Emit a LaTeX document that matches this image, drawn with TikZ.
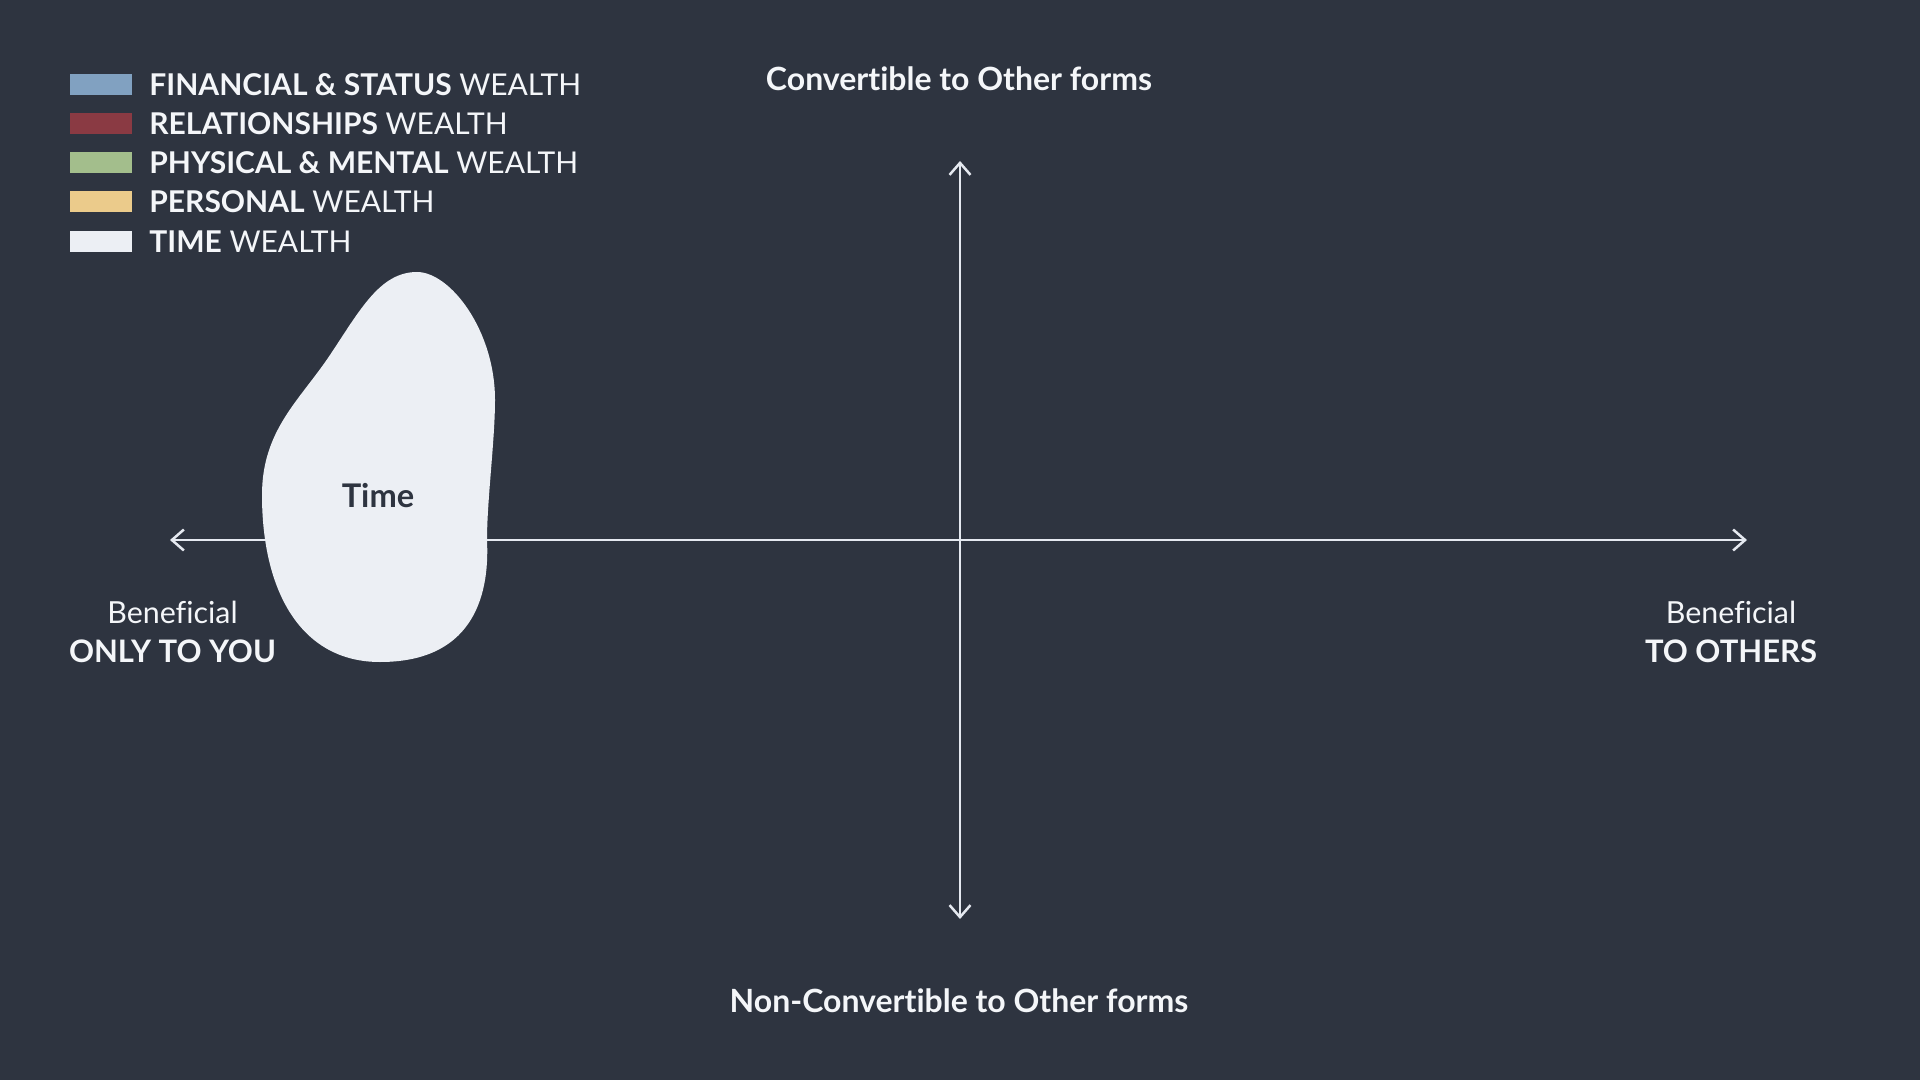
\documentclass[tikz,border=0pt]{standalone}
\usepackage{fontspec}
\setmainfont{Lato}[Ligatures=NoCommon]
\usetikzlibrary{arrows.meta}
\definecolor{bg}{HTML}{2E3440}
\definecolor{axisc}{HTML}{E5E9F0}
\definecolor{txt}{HTML}{F4F6F9}
\definecolor{cfin}{HTML}{81A1C1}
\definecolor{crel}{HTML}{8A3A43}
\definecolor{cphy}{HTML}{A3BE8C}
\definecolor{cper}{HTML}{EBCB8B}
\definecolor{ctim}{HTML}{ECEFF4}
\tikzset{
  axisline/.style={draw=axisc, line width=1.25pt,
    arrows={Straight Barb[length=6pt,width=10.5pt]-Straight Barb[length=6pt,width=10.5pt]}},
  lbl/.style={text=txt, inner sep=0pt, anchor=base, font=\fontsize{15.2}{18}\selectfont},
  blbl/.style={text=txt, inner sep=0pt, anchor=base, font=\fontsize{15.5}{18}\selectfont\bfseries},
  tlbl/.style={blbl, font=\fontsize{16}{18}\selectfont\bfseries},
  legtext/.style={text=txt, inner sep=0pt, anchor=base west, font=\fontsize{15}{18}\selectfont},
  swatch/.style={minimum width=31pt, minimum height=10.5pt, inner sep=0pt, draw=none},
  blobstyle/.style={fill=ctim, draw=none},
}
\begin{document}
\begin{tikzpicture}[x=0.5pt,y=-0.5pt]
\fill[bg] (0,0) rectangle (1920,1080);
\useasboundingbox (0,0) rectangle (1920,1080);

% legend
\node[swatch, fill=cfin] (s1) at (101,84.5) {};
\node[swatch, fill=crel] (s2) at (101,123.7) {};
\node[swatch, fill=cphy] (s3) at (101,162.9) {};
\node[swatch, fill=cper] (s4) at (101,202) {};
\node[swatch, fill=ctim] (s5) at (101,241.2) {};
\node[legtext] (l1) at (149,95.5) {\textbf{FINANCIAL \& STATUS} WEALTH};
\node[legtext] (l2) at (149,134.7) {\textbf{RELATIONSHIPS} WEALTH};
\node[legtext] (l3) at (149,173.9) {\textbf{PHYSICAL \& MENTAL} WEALTH};
\node[legtext] (l4) at (149,213) {\textbf{PERSONAL} WEALTH};
\node[legtext] (l5) at (149,252.2) {\textbf{TIME} WEALTH};

% axes
\coordinate (L) at (170,540);
\coordinate (R) at (1747,540);
\coordinate (T) at (960,161);
\coordinate (B) at (960,919);
\draw[axisline] (L) -- (R);
\draw[axisline] (B) -- (T);

% time blob
\fill[blobstyle] (417,272)
  .. controls (450,272) and (495,330) .. (495,400)
  .. controls (495,440) and (487,500) .. (487,540)
  .. controls (490,600) and (470,662) .. (380,662)
  .. controls (300,662) and (262,590) .. (262,495)
  .. controls (262,430) and (300,400) .. (330,355)
  .. controls (360,310) and (380,272) .. (417,272) -- cycle;
\node[blbl, text=bg, font=\fontsize{16.3}{18}\selectfont\bfseries] (time) at (378,507) {Time};

% axis labels
\node[tlbl] (conv) at (959,90.6) {Convertible to Other forms};
\node[tlbl] (nonconv) at (959,1012) {Non-Convertible to Other forms};
\node[lbl] (benL) at (172.5,623) {Beneficial};
\node[blbl] (onlyyou) at (172.5,662) {ONLY TO YOU};
\node[lbl] (benR) at (1731,623) {Beneficial};
\node[blbl] (others) at (1731,662) {TO OTHERS};
\end{tikzpicture}
\end{document}
